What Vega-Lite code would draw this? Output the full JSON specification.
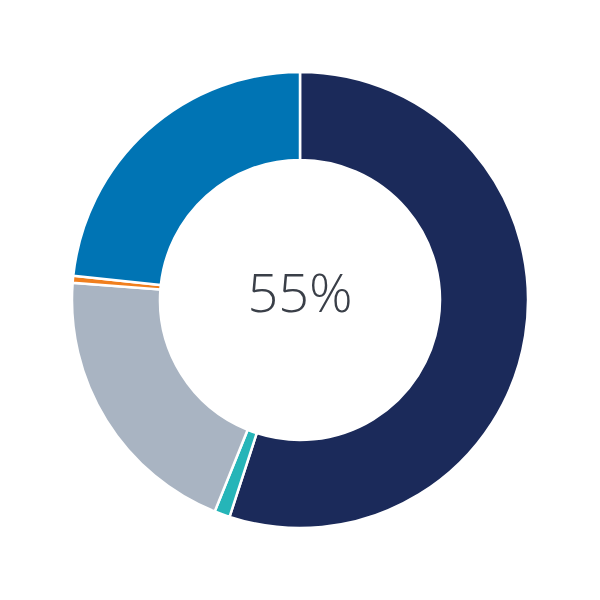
{
  "$schema": "https://vega.github.io/schema/vega-lite/v6.json",
  "width": 600,
  "height": 600,
  "autosize": {"type": "fit", "contains": "padding"},
  "padding": 0,
  "background": "white",
  "config": {"view": {"stroke": null}},
  "layer": [
    {
      "data": {
        "values": [
          {"category": "A", "value": 55.0, "rank": 1},
          {"category": "B", "value": 1.1, "rank": 2},
          {"category": "C", "value": 20.1, "rank": 3},
          {"category": "D", "value": 0.5, "rank": 4},
          {"category": "E", "value": 23.3, "rank": 5}
        ]
      },
      "mark": {"type": "arc", "outerRadius": 228, "innerRadius": 140, "stroke": "white", "strokeWidth": 2.5},
      "encoding": {
        "theta": {"field": "value", "type": "quantitative", "stack": true},
        "order": {"field": "rank", "type": "quantitative"},
        "color": {
          "field": "category",
          "type": "nominal",
          "legend": null,
          "scale": {
            "domain": ["A", "B", "C", "D", "E"],
            "range": ["#1b2a5a", "#26b5b8", "#a9b4c2", "#f07f1e", "#0074b4"]
          }
        }
      }
    },
    {
      "data": {"values": [{"label": "55%"}]},
      "mark": {"type": "text", "font": "'Open Sans', sans-serif", "fontSize": 54, "fontWeight": 300, "color": "#3a3f48", "baseline": "middle", "align": "center", "dy": -4},
      "encoding": {"text": {"field": "label"}}
    }
  ]
}
